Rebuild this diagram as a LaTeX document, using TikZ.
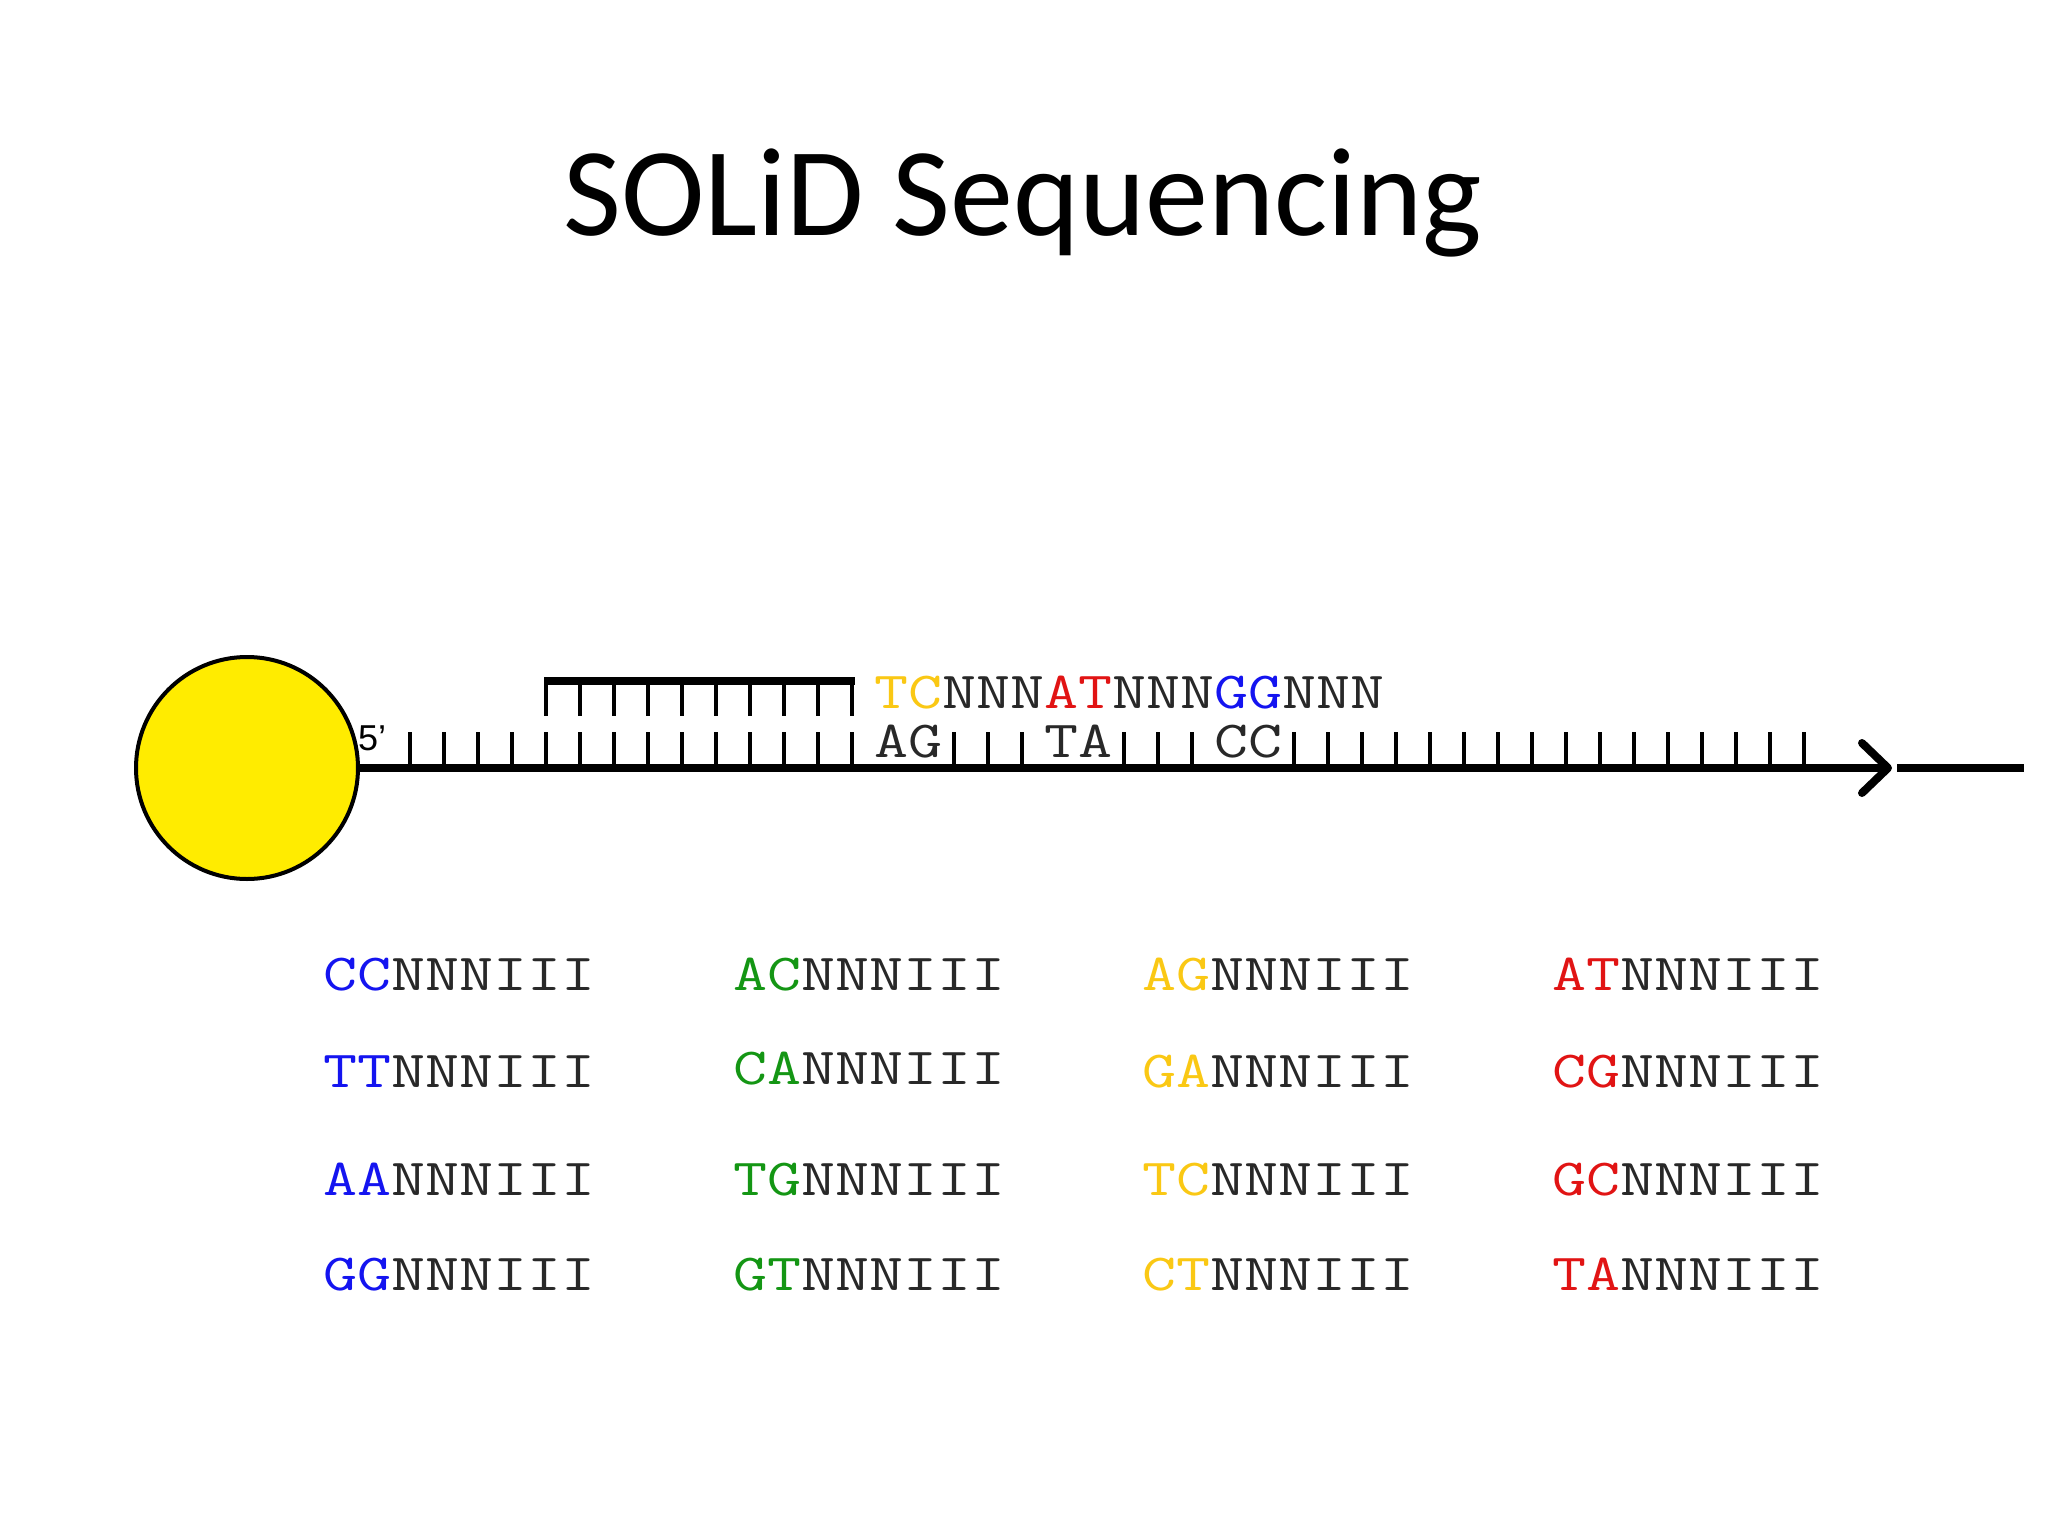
\documentclass[tikz,border=0pt]{standalone}
\usepackage{fontspec}
\setmainfont{Liberation Sans}
\newfontfamily\titlefont{Carlito}
\newfontfamily\seqfont{Latin Modern Mono}[FakeStretch=1.27]
\usetikzlibrary{arrows.meta}
\definecolor{cblue}{RGB}{20,20,240}
\definecolor{cgreen}{RGB}{20,150,20}
\definecolor{cgold}{RGB}{250,200,20}
\definecolor{cred}{RGB}{225,20,20}
\definecolor{cbead}{RGB}{255,236,0}
\definecolor{cn}{RGB}{40,40,40}
\begin{document}
\begin{tikzpicture}[x=1pt,y=-1pt,
  seq/.style={anchor=base west,inner sep=0pt,font=\seqfont\fontsize{52}{56}\selectfont,text=cn},
  strand/.style={line width=8pt},
  tick/.style={line width=4pt}]
\useasboundingbox (0,0) rectangle (2048,1536);
\fill[white] (0,0) rectangle (2048,1536);
\node[anchor=base,inner sep=0pt,font=\titlefont\fontsize{126}{130}\selectfont] (title) at (1023,235) {SOLiD Sequencing};
% bead and strand
\node[circle,draw,line width=4pt,fill=cbead,minimum size=222pt,inner sep=0pt] (bead) at (247,768) {};
\coordinate (tip) at (1892,768);
\coordinate (s2a) at (1897,768);
\coordinate (s2b) at (2024,768);
\draw[strand,-{Straight Barb[length=26pt,width=50pt,line width=8pt,round]}] (bead.east) -- (tip);
\draw[strand] (s2a) -- (s2b);
\foreach \x in {410,444,...,852,954,988,1022,1124,1158,1192} \draw[tick] (\x,732) -- (\x,768);
\foreach \x in {1294,1328,...,1810} \draw[tick] (\x,732) -- (\x,768);
% primer
\draw[strand] (544,681) -- (855,681);
\foreach \x in {546,580,...,853} \draw[tick] (\x,681) -- (\x,716);
\node[anchor=base west,inner sep=0pt,font=\fontsize{36}{38}\selectfont] (five) at (358,750) {5’};
\node[seq] (probe) at (874,708) {\textcolor{cgold}{TC}NNN\textcolor{cred}{AT}NNN\textcolor{cblue}{GG}NNN};
\node[seq] (ag) at (874,757) {AG};
\node[seq] (ta) at (1044,757) {TA};
\node[seq] (cc) at (1214,757) {CC};
% probe grid
\node[seq] (p11) at (323,990) {\textcolor{cblue}{CC}NNNIII};
\node[seq] (p21) at (323,1087) {\textcolor{cblue}{TT}NNNIII};
\node[seq] (p31) at (323,1195) {\textcolor{cblue}{AA}NNNIII};
\node[seq] (p41) at (323,1290) {\textcolor{cblue}{GG}NNNIII};
\node[seq] (p12) at (733,990) {\textcolor{cgreen}{AC}NNNIII};
\node[seq] (p22) at (733,1084) {\textcolor{cgreen}{CA}NNNIII};
\node[seq] (p32) at (733,1195) {\textcolor{cgreen}{TG}NNNIII};
\node[seq] (p42) at (733,1290) {\textcolor{cgreen}{GT}NNNIII};
\node[seq] (p13) at (1142,990) {\textcolor{cgold}{AG}NNNIII};
\node[seq] (p23) at (1142,1087) {\textcolor{cgold}{GA}NNNIII};
\node[seq] (p33) at (1142,1195) {\textcolor{cgold}{TC}NNNIII};
\node[seq] (p43) at (1142,1290) {\textcolor{cgold}{CT}NNNIII};
\node[seq] (p14) at (1552,990) {\textcolor{cred}{AT}NNNIII};
\node[seq] (p24) at (1552,1087) {\textcolor{cred}{CG}NNNIII};
\node[seq] (p34) at (1552,1195) {\textcolor{cred}{GC}NNNIII};
\node[seq] (p44) at (1552,1290) {\textcolor{cred}{TA}NNNIII};
\end{tikzpicture}
\end{document}
